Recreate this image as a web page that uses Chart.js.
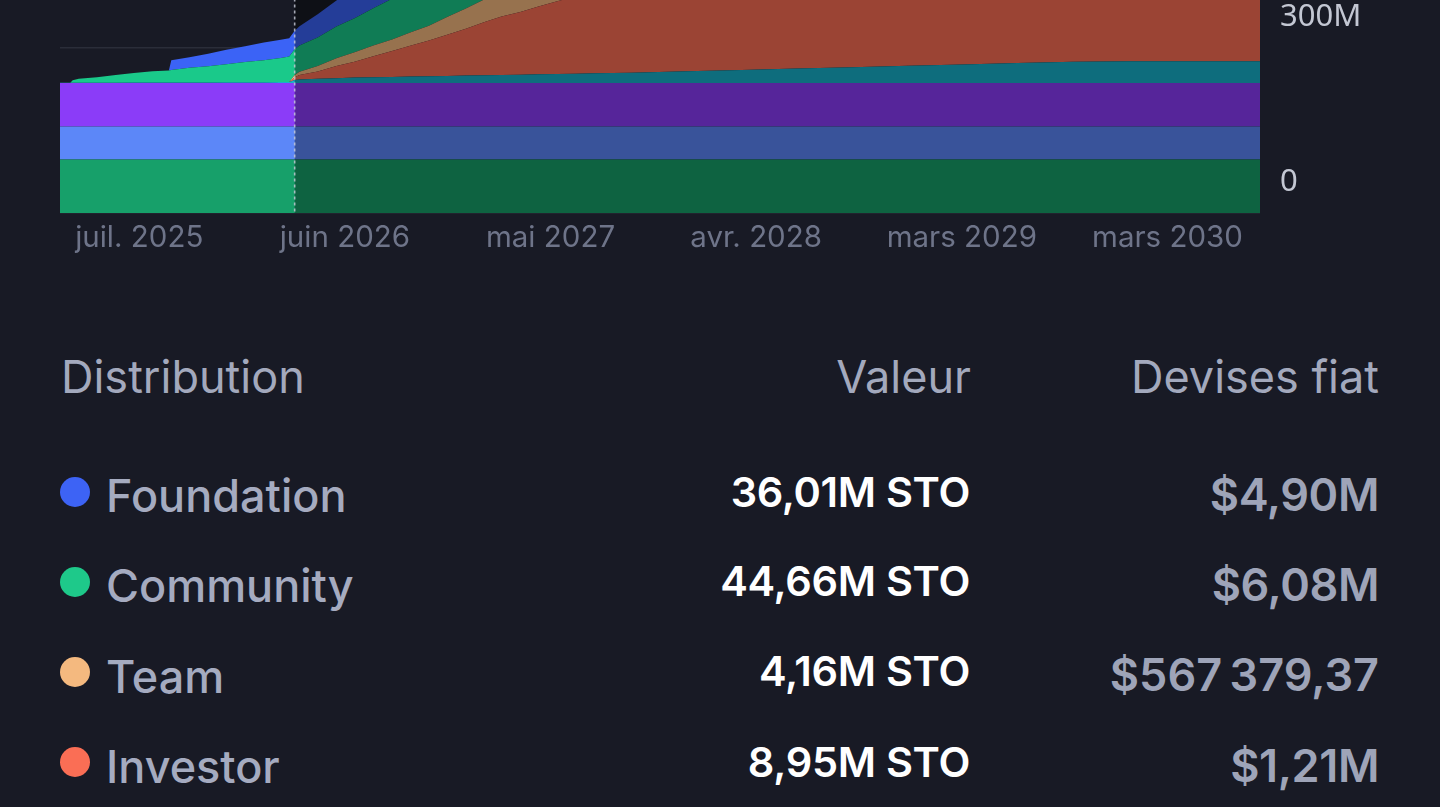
<!DOCTYPE html>
<html>
<head>
<meta charset="utf-8">
<script src="https://cdn.jsdelivr.net/npm/chart.js@4.4.1/dist/chart.umd.min.js"></script>
<style>
html,body{margin:0;padding:0;background:#181a25;width:1440px;height:807px;overflow:hidden;font-family:Inter,"Noto Sans",sans-serif;}
#wrap{position:absolute;left:0;top:-376px;width:1440px;height:649px;}
#wrap canvas{display:block;}
.t{position:absolute;white-space:nowrap;line-height:1;}
.hd{font-size:45px;font-weight:400;color:#a3a9bd;}
.nm{font-size:45px;font-weight:500;color:#a5abc0;left:106px;}
.vl{font-size:41.5px;font-weight:600;color:#ffffff;right:470px;letter-spacing:-0.3px;}
.fi{font-size:45px;font-weight:600;color:#9ea4b8;right:61px;letter-spacing:-0.4px;}
.dot{position:absolute;width:30px;height:30px;border-radius:50%;left:60px;}
</style>
</head>
<body>
<div id="wrap"><canvas id="c" width="1440" height="649"></canvas></div>

<div class="t hd" style="left:61px;top:354px;">Distribution</div>
<div class="t hd" style="right:469px;top:354px;">Valeur</div>
<div class="t hd" style="right:61px;top:354px;">Devises fiat</div>
<div id="rows"></div>

<script>
// ---------- data ----------
const dates = [
  '2025-03-01','2025-03-18','2025-03-22','2025-04-01','2025-05-01','2025-06-01','2025-07-01','2025-08-01',
  '2025-08-28','2025-09-01','2025-10-01','2025-11-01','2025-12-01','2026-01-01','2026-02-01','2026-03-01',
  '2026-03-15','2026-03-24','2026-04-01','2026-05-01','2026-06-01','2026-07-01','2026-08-01','2026-09-01',
  '2026-10-01','2026-11-01','2026-12-01','2027-01-01','2027-02-01','2027-03-01','2027-04-01','2027-05-01',
  '2027-06-01','2027-07-01','2027-08-01','2027-10-01','2028-01-01','2028-04-01','2028-07-01','2028-10-01',
  '2029-01-01','2029-04-01','2029-07-01','2029-10-01','2030-01-01','2030-04-01','2030-08-06'
];
// values in millions of STO, bottom of the stack first
const ecosystem = [97,97,97,97,97,97,97,97,97,97,97,97,97,97,97,97,97,97,97,97,97,97,97,97,97,97,97,97,97,97,97,97,97,97,97,97,97,97,97,97,97,97,97,97,97,97,97];
const liquidity = [60,60,60,60,60,60,60,60,60,60,60,60,60,60,60,60,60,60,60,60,60,60,60,60,60,60,60,60,60,60,60,60,60,60,60,60,60,60,60,60,60,60,60,60,60,60,60];
const airdrop   = [79,79,79,79,79,79,79,79,79,79,79,79,79,79,79,79,79,79,79,79,79,79,79,79,79,79,79,79,79,79,79,79,79,79,79,79,79,79,79,79,79,79,79,79,79,79,79];
const advisors  = [0.5,0.5,0.5,0.6,0.7,0.8,0.9,1.0,1.1,1.1,1.2,1.3,1.4,1.5,1.6,1.8,2.0,5.5,6.5,8,9,10,10.6,11.2,11.8,12.4,13,13.6,14.2,14.8,15.4,16,16.6,17.2,17.8,19,21.5,24,26.5,29,31.5,34,36.5,39,39.5,39.5,39.5];
const investor  = [0,0,0,0,0,0,0,0,0,0,0,0,0,0,0,0,0,5,8,13,22,29,38,47,56,65,75,85,97,106,114,123,132,140,148,160,178,195,212,228,245,258,268,275,275,275,275];
const team      = [0,0,0,0,0,0,0,0,0,0,0,0,0,0,0,0,0,4,6,10,14,17,19.5,21,24,27,32,37,41,45,48,51,54,57,60,65,72,80,88,96,104,111,117,120,120,120,120];
const community = [0,0,4.5,7.3,10,14,17.5,20.5,22,22.5,26.5,29.5,33,37,40,44,46.5,47,48,52,58,62,68,74,80,86,91,96,100,104,108,112,116,120,124,130,138,146,154,160,165,168,170,170,170,170,170];
const foundation= [0,0,0,0,0,0,0,0,0,18,19.5,22.5,26,28.5,32,33,33,33.5,35,42,47,52,56,60,64,68,72,76,80,84,88,92,96,100,104,110,120,130,138,145,150,153,155,155,155,155,155];

const seriesNames  = ['Ecosystem','Liquidity','Airdrop','Advisors','Investor','Team','Community','Foundation'];
const seriesValues = [ecosystem,liquidity,airdrop,advisors,investor,team,community,foundation];
const seriesColors = ['#17a06a','#5c87f8','#8b3cf8','#18b1ca','#fa6e55','#f4b97f','#1ac98a','#3b63f6'];

const tickDates  = ['2025-07-10','2026-06-15','2027-05-21','2028-04-25','2029-03-31','2030-03-06'];
const tickLabels = ['juil. 2025','juin 2026','mai 2027','avr. 2028','mars 2029','mars 2030'];
const xStart = '2025-03-01', xEnd = '2030-08-06', today = '2026-03-24';

// table
const rowNames  = ['Foundation','Community','Team','Investor'];
const rowColors = ['#3d63f5','#1ec98a','#f4b97f','#fa6e55'];
const rowValues = ['36,01M STO','44,66M STO','4,16M STO','8,95M STO'];
const rowFiat   = ['$4,90M','$6,08M','$567\u202F379,37','$1,21M'];

// ---------- table ----------
const rows = document.getElementById('rows');
const nameTop = [473,563,654,744], valTop = [472,561,651,742], fiatTop = [472,562,652,743], dotTop = [477,567,657,747];
rowNames.forEach((n,i)=>{
  rows.insertAdjacentHTML('beforeend',
    `<div class="dot" style="top:${dotTop[i]}px;background:${rowColors[i]}"></div>`+
    `<div class="t nm" style="top:${nameTop[i]}px">${n}</div>`+
    `<div class="t vl" style="top:${valTop[i]}px">${rowValues[i]}</div>`+
    `<div class="t fi" style="top:${fiatTop[i]}px">${rowFiat[i]}</div>`);
});

// ---------- chart ----------
const ts = d => Date.parse(d + 'T00:00:00Z');

const futurePlugin = {
  id: 'future',
  afterDatasetsDraw(chart) {
    const {ctx, chartArea: a, scales: {x}} = chart;
    const px = x.getPixelForValue(ts(today));
    ctx.save();
    ctx.fillStyle = 'rgba(0,0,0,0.38)';
    ctx.fillRect(px, a.top, a.right - px, a.bottom - a.top);
    ctx.strokeStyle = 'rgba(200,204,216,0.8)';
    ctx.lineWidth = 1.6;
    ctx.setLineDash([3, 3]);
    ctx.beginPath();
    ctx.moveTo(px, a.top);
    ctx.lineTo(px, a.bottom);
    ctx.stroke();
    ctx.restore();
  }
};

new Chart(document.getElementById('c'), {
  type: 'line',
  data: {
    datasets: seriesValues.map((vals, k) => ({
      label: seriesNames[k],
      data: dates.map((d, i) => ({x: ts(d), y: vals[i]})),
      backgroundColor: seriesColors[k],
      borderColor: seriesColors[k],
      borderWidth: 0,
      pointRadius: 0,
      fill: k === 0 ? 'origin' : '-1',
      tension: 0
    }))
  },
  options: {
    responsive: false,
    animation: false,
    layout: {padding: {top: 0, left: 60, right: 0, bottom: 0}},
    plugins: {legend: {display: false}, tooltip: {enabled: false}},
    scales: {
      x: {
        type: 'linear',
        min: ts(xStart),
        max: ts(xEnd),
        grid: {display: false, drawTicks: false},
        border: {display: false},
        afterBuildTicks: ax => { ax.ticks = tickDates.map(d => ({value: ts(d)})); },
        afterFit: ax => { ax.height = 60; },
        ticks: {
          autoSkip: false, maxRotation: 0, minRotation: 0, padding: 7,
          color: '#6e7489', font: {family: 'Inter', size: 29.5},
          callback: (v, i) => tickLabels[i]
        }
      },
      y: {
        position: 'right',
        stacked: true,
        min: 0,
        max: 1000,
        afterFit: ax => { ax.width = 180; },
        grid: {color: '#2a2d39', lineWidth: 1.5, drawTicks: false},
        border: {display: false},
        ticks: {
          stepSize: 300, padding: 20, labelOffset: -31,
          color: '#c3c7d3', font: {family: 'Noto Sans', size: 31},
          callback: v => v === 0 ? '0' : (v % 300 === 0 ? v + 'M' : '')
        }
      }
    }
  },
  plugins: [futurePlugin]
});
</script>
</body>
</html>
